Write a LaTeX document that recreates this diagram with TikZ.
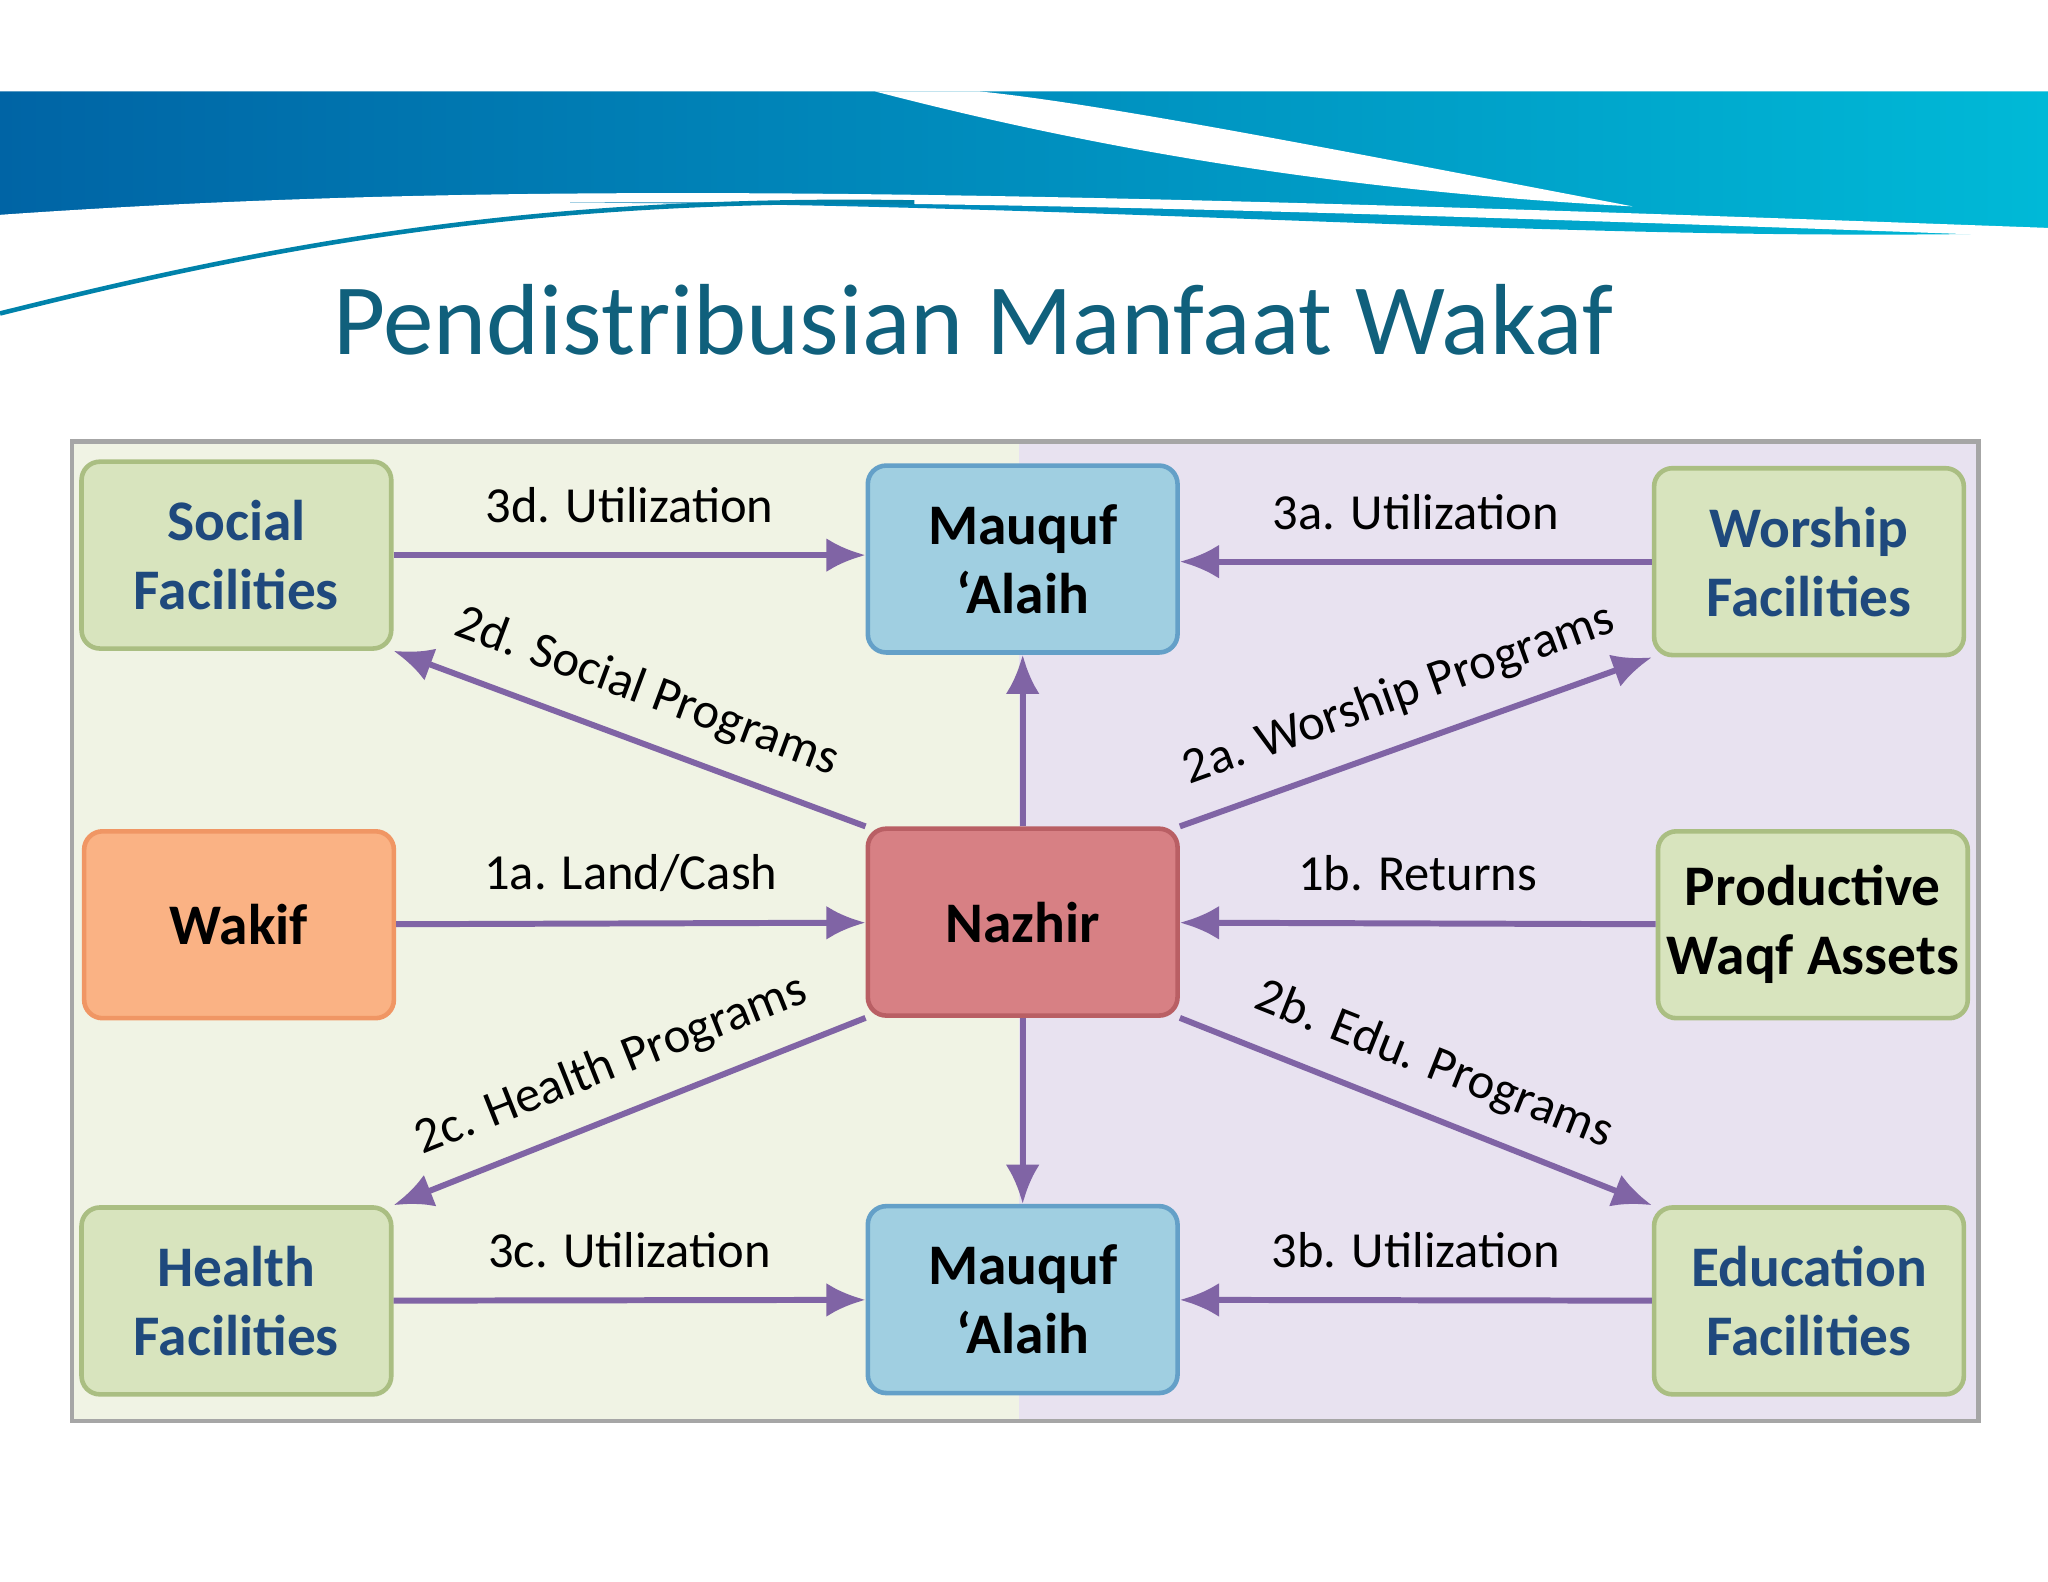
\documentclass[tikz,border=0pt]{standalone}
\usepackage{fontspec}
\setmainfont{Carlito}
\usetikzlibrary{arrows.meta}
\definecolor{titleblue}{RGB}{16,96,124}
\definecolor{boxtext}{RGB}{31,73,125}
\definecolor{arrowpurple}{RGB}{128,100,165}
\definecolor{greenfill}{RGB}{216,228,190}
\definecolor{greendraw}{RGB}{170,190,130}
\definecolor{bluefill}{RGB}{160,207,225}
\definecolor{bluedraw}{RGB}{100,160,200}
\definecolor{redfill}{RGB}{215,128,132}
\definecolor{reddraw}{RGB}{185,95,100}
\definecolor{orangefill}{RGB}{250,178,132}
\definecolor{orangedraw}{RGB}{240,150,100}
\definecolor{leftbg}{RGB}{240,243,228}
\definecolor{rightbg}{RGB}{232,226,240}
\definecolor{banddark}{RGB}{0,100,165}
\definecolor{bandlight}{RGB}{0,185,215}
\definecolor{swoosh}{RGB}{0,130,170}
\begin{document}
\begin{tikzpicture}[x=0.01cm,y=-0.01cm,
box/.style={rectangle, rounded corners=4pt, line width=1pt, minimum width=2.37cm, minimum height=1.43cm, inner xsep=1pt, align=center, font=\fontsize{12.5}{15}\selectfont\bfseries, text=boxtext},
facility/.style={box, fill=greenfill, draw=greendraw},
mauquf/.style={box, fill=bluefill, draw=bluedraw, text=black},
flow/.style={draw=arrowpurple, line width=1.3pt, -{Latex[length=3mm,width=2.6mm]}},
lbl/.style={font=\fontsize{11}{13}\selectfont, text=black},
]
    \useasboundingbox (0,0) rectangle (1568,1211);

    % Bandeau
    \shade[left color=banddark, right color=bandlight]
        (0,70) -- (1568,70) -- (1568,178) .. controls (1100,190) and (600,130) .. (0,168) -- cycle;
    \fill[white] (670,70) .. controls (900,130) and (1100,150) .. (1250,158) .. controls (1050,120) and (850,80) .. (750,70) -- cycle;
    \draw[white, line width=2pt] (0,168) .. controls (400,140) and (800,150) .. (1568,178);
    \draw[swoosh, line width=1pt] (0,240) .. controls (200,190) and (400,150) .. (700,155);

    % Titre
    \node[text=titleblue, font=\fontsize{22}{26}\selectfont] (titre) at (745,245) {Pendistribusian Manfaat Wakaf};

    % Fond
    \fill[leftbg] (55,338) rectangle (780,1088);
    \fill[rightbg] (780,338) rectangle (1515,1088);
    \draw[gray!70, line width=1pt] (55,338) rectangle (1515,1088);

    % Blocs
    \node[facility] (social) at (181,425) {Social\\Facilities};
    \node[mauquf] (mauqufA) at (783,428) {Mauquf\\`Alaih};
    \node[facility] (worship) at (1385,430) {Worship\\Facilities};
    \node[box, fill=orangefill, draw=orangedraw, text=black] (wakif) at (183,708) {Wakif};
    \node[box, fill=redfill, draw=reddraw, text=black] (nazhir) at (783,706) {Nazhir};
    \node[facility, text=black] (productive) at (1388,708) {Productive\\Waqf Assets};
    \node[facility] (health) at (181,996) {Health\\Facilities};
    \node[mauquf] (mauqufB) at (783,995) {Mauquf\\`Alaih};
    \node[facility] (education) at (1385,996) {Education\\Facilities};

    % Liens
    \draw[flow] (social.east) -- node[lbl, above=3pt] {3d. Utilization} (mauqufA.west |- social.east);
    \draw[flow] (worship.west) -- node[lbl, above=3pt] {3a. Utilization} (mauqufA.east |- worship.west);
    \draw[flow] (nazhir) -- (mauqufA);
    \draw[flow] (nazhir.north west) -- node[lbl, sloped, above=2pt] {2d. Social Programs} (social.south east);
    \draw[flow] (nazhir.north east) -- node[lbl, sloped, above=2pt] {2a. Worship Programs} (worship.south west);
    \draw[flow] (wakif) -- node[lbl, above=3pt] {1a. Land/Cash} (nazhir);
    \draw[flow] (productive) -- node[lbl, above=3pt] {1b. Returns} (nazhir);
    \draw[flow] (nazhir.south west) -- node[lbl, sloped, above=2pt] {2c. Health Programs} (health.north east);
    \draw[flow] (nazhir.south east) -- node[lbl, sloped, above=2pt] {2b. Edu. Programs} (education.north west);
    \draw[flow] (nazhir) -- (mauqufB);
    \draw[flow] (health) -- node[lbl, above=3pt] {3c. Utilization} (mauqufB);
    \draw[flow] (education) -- node[lbl, above=3pt] {3b. Utilization} (mauqufB);
\end{tikzpicture}
\end{document}
